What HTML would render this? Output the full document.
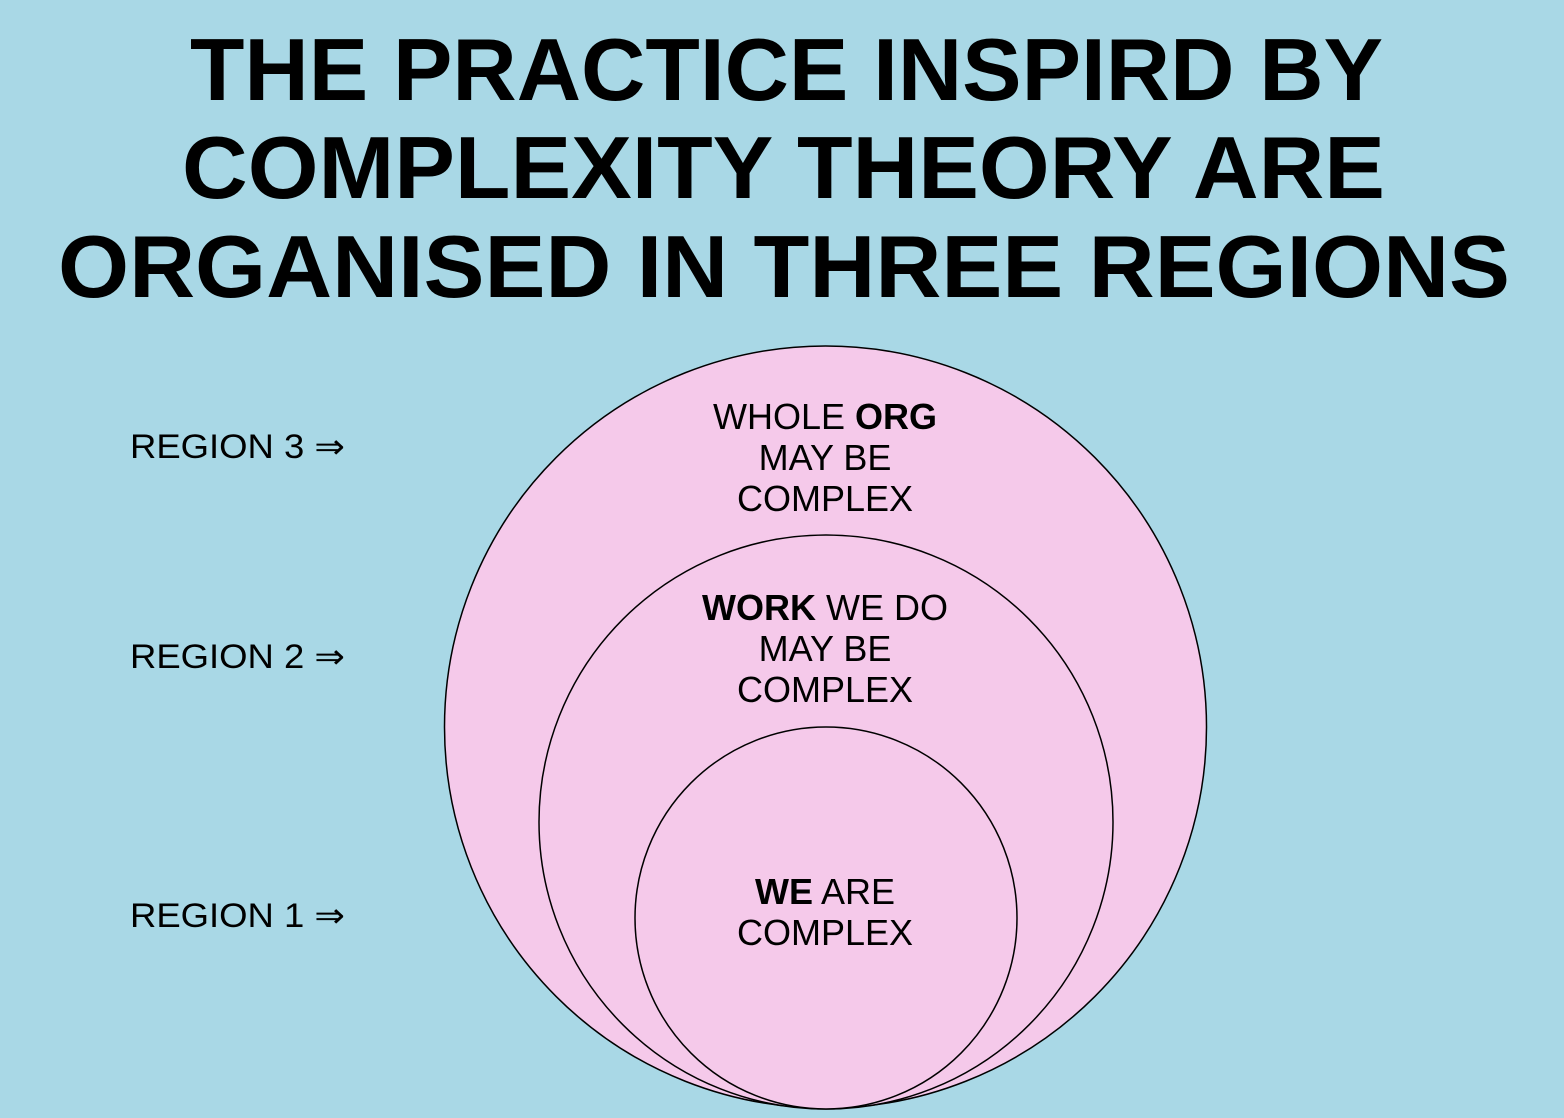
<!DOCTYPE html>
<html><head><meta charset="utf-8"><style>
html,body{margin:0;padding:0;background:#a9d8e6;}
svg{display:block;}
text{font-family:"Liberation Sans",sans-serif;fill:#000;}
</style></head><body>
<svg width="1564" height="1118" viewBox="0 0 1564 1118" xmlns="http://www.w3.org/2000/svg">
<rect width="1564" height="1118" fill="#a9d8e6"/>
<g font-weight="bold" font-size="88">
<text x="190" y="100" textLength="1193" lengthAdjust="spacingAndGlyphs">THE PRACTICE INSPIRD BY</text>
<text x="182" y="198" textLength="1203" lengthAdjust="spacingAndGlyphs">COMPLEXITY THEORY ARE</text>
<text x="58" y="297" textLength="1452" lengthAdjust="spacingAndGlyphs">ORGANISED IN THREE REGIONS</text>
</g>
<circle cx="825.5" cy="727" r="381" fill="#f5c9ea" stroke="#000" stroke-width="1.5"/>
<circle cx="826" cy="822" r="287" fill="#f5c9ea" stroke="#000" stroke-width="1.5"/>
<circle cx="826" cy="918" r="191" fill="#f5c9ea" stroke="#000" stroke-width="1.5"/>
<g font-size="34">
<text x="130" y="458" textLength="215" lengthAdjust="spacingAndGlyphs">REGION 3 ⇒</text>
<text x="130" y="668" textLength="215" lengthAdjust="spacingAndGlyphs">REGION 2 ⇒</text>
<text x="130" y="927" textLength="215" lengthAdjust="spacingAndGlyphs">REGION 1 ⇒</text>
</g>
<g font-size="36" text-anchor="middle">
<text x="825" y="429">WHOLE <tspan font-weight="bold">ORG</tspan></text>
<text x="825" y="470">MAY BE</text>
<text x="825" y="511">COMPLEX</text>
<text x="825" y="620"><tspan font-weight="bold">WORK</tspan> WE DO</text>
<text x="825" y="661">MAY BE</text>
<text x="825" y="702">COMPLEX</text>
<text x="825" y="904"><tspan font-weight="bold">WE</tspan> ARE</text>
<text x="825" y="945">COMPLEX</text>
</g>
</svg>
</body></html>
